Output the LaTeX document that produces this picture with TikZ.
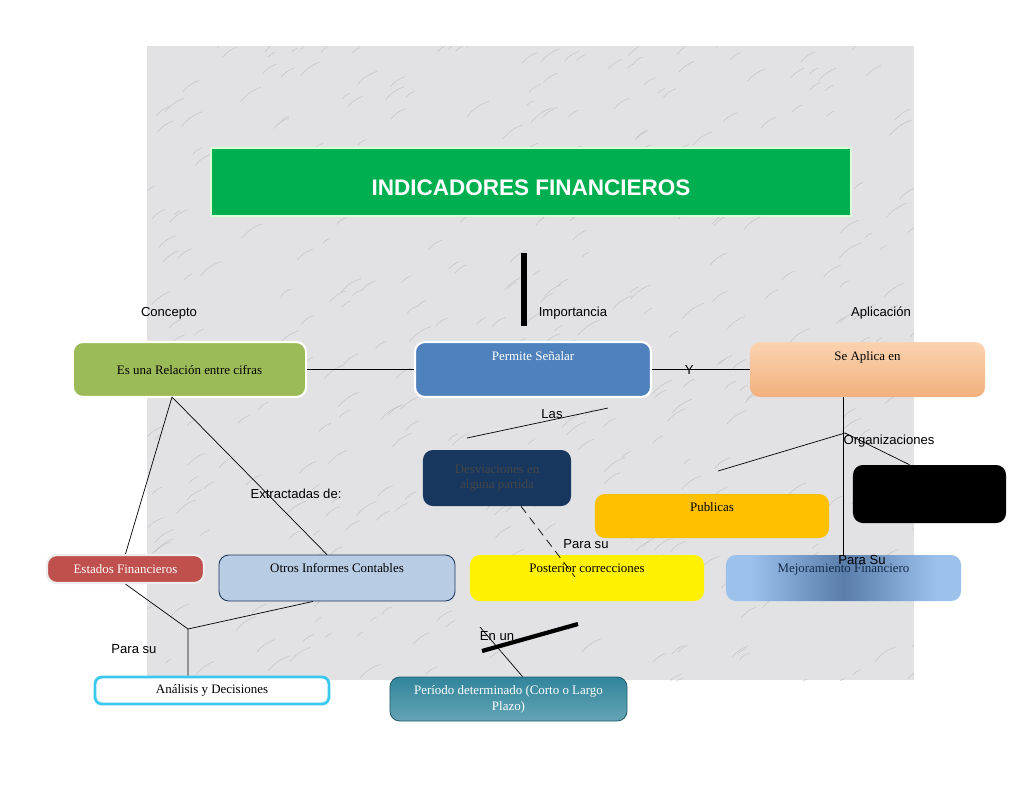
\documentclass[tikz,border=0pt]{standalone}
\usepackage{fontspec}
\setmainfont{Liberation Serif}
\newfontfamily\arialfont{Liberation Sans}

\definecolor{titlegreen}{HTML}{00B050}
\definecolor{relgreen}{HTML}{9BBB59}
\definecolor{permblue}{HTML}{4F81BD}
\definecolor{peachA}{HTML}{FBD3B0}
\definecolor{peachB}{HTML}{F2B07E}
\definecolor{navy}{HTML}{17375E}
\definecolor{gold}{HTML}{FFC000}
\definecolor{estred}{HTML}{C0504D}
\definecolor{paleblue}{HTML}{B8CCE4}
\definecolor{mejA}{HTML}{9CC2EC}
\definecolor{mejB}{HTML}{5A7DAA}
\definecolor{cyanline}{HTML}{3CC8EE}
\definecolor{tealbox}{HTML}{31859C}
\definecolor{marble}{HTML}{E2E2E4}
\definecolor{vein}{HTML}{B4B4B8}

\pgfdeclarehorizontalshading{mejshade}{100bp}{color(0bp)=(mejA); color(30bp)=(mejA);
  color(50bp)=(mejB); color(70bp)=(mejA); color(100bp)=(mejA)}

\tikzset{
  box/.style={rounded corners=7pt, inner sep=0.1cm, align=center,
    font=\fontsize{9.2}{11}\selectfont},
  lbl/.style={font=\arialfont\fontsize{9.3}{10}\selectfont, inner sep=0pt},
  link/.style={draw=black, line width=0.5pt},
}

\begin{document}
\begin{tikzpicture}[x=0.025cm,y=-0.025cm]
  \useasboundingbox (0,0) rectangle (1024,792);
  \fill[marble] (147,46) rectangle (914,680);
  % vetas del marmol
  \begin{scope}
    \clip (147,46) rectangle (914,680);
    \pgfmathsetseed{11}
    \foreach \i in {1,...,420}{
      \pgfmathsetmacro{\mx}{140+780*rnd}
      \pgfmathsetmacro{\my}{46+650*rnd}
      \pgfmathsetmacro{\ml}{6+16*rnd}
      \draw[vein, line width=0.4pt, opacity=0.6] (\mx,\my) to[bend left=15] ++(\ml,-0.7*\ml);
    }
  \end{scope}

  \node[box, rounded corners=0pt, fill=titlegreen, draw=white!85!green, line width=1pt,
    minimum width=16cm, minimum height=1.7cm, text=white, text height=1.09cm, text depth=0.41cm,
    font=\arialfont\bfseries\fontsize{16}{18}\selectfont] (title) at (531,182) {INDICADORES FINANCIEROS};

  \node[box, fill=relgreen, draw=white, line width=1.5pt, minimum width=5.83cm, minimum height=1.375cm] (rel) at (189.5,369.5) {Es una Relación entre cifras};
  \node[box, fill=permblue, draw=white, line width=1.5pt, text=white, minimum width=5.9cm, minimum height=1.375cm,
    text height=0.37cm, text depth=0.8cm] (perm) at (533,369.5) {Permite Señalar};
  \node[box, top color=peachA, bottom color=peachB, minimum width=5.875cm, minimum height=1.375cm,
    text height=0.37cm, text depth=0.8cm] (apl) at (867.5,369.5) {Se Aplica en};
  \node[box, fill=navy, text=gray!55!black, minimum width=3.7cm, minimum height=1.4cm] (desv) at (497,478) {Desviaciones en\\alguna partida};
  \node[box, fill=gold, minimum width=5.85cm, minimum height=1.1cm,
    text height=0.345cm, text depth=0.555cm] (pub) at (712,516) {Publicas};
  \node[box, fill=black, minimum width=3.825cm, minimum height=1.45cm] (oscuro) at (929.5,494) {};
  \node[box, fill=estred, draw=white!85!gray, line width=1.5pt, text=white, minimum width=3.925cm, minimum height=0.7cm] (estados) at (125.5,569) {Estados Financieros};
  \node[box, fill=paleblue, draw=navy, line width=0.6pt, minimum width=5.9cm, minimum height=1.15cm,
    text height=0.345cm, text depth=0.605cm] (otros) at (337,578) {Otros Informes Contables};
  \node[box, fill=yellow, minimum width=5.85cm, minimum height=1.15cm,
    text height=0.345cm, text depth=0.605cm] (post) at (587,578) {Posterior correcciones};
  \node[box, shading=mejshade, text=navy!80!black, minimum width=5.875cm, minimum height=1.15cm,
    text height=0.345cm, text depth=0.605cm] (mej) at (843.5,578) {Mejoramiento Financiero};
  \node[box, rounded corners=5pt, fill=white, draw=cyanline, line width=2pt, minimum width=5.85cm, minimum height=0.675cm] (analisis) at (212,690.5) {Análisis y Decisiones};
  \node[box, top color=tealbox, bottom color=tealbox!75!white, draw=tealbox!70!black, line width=0.6pt, text=white, minimum width=5.925cm, minimum height=1.1cm,
    font=\fontsize{9.2}{11.3}\selectfont] (periodo) at (508.5,699) {Período determinado (Corto o Largo\\Plazo)};

  % etiquetas
  \node[lbl] (concepto) at (169,313) {Concepto};
  \node[lbl] (importancia) at (573,313) {Importancia};
  \node[lbl] (aplicacion) at (881,313) {Aplicación};
  \node[lbl] (las) at (552,414) {Las};
  \node[lbl] (extractadas) at (296,494) {Extractadas de:};
  \node[lbl] (organizaciones) at (889,441) {Organizaciones};
  \node[lbl] (parasu1) at (586,544) {Para su};
  \node[lbl] (parasu2) at (134,649) {Para su};
  \node[lbl] (enun) at (497,636) {En un};

  % conectores
  \coordinate (imp1) at (524,253);
  \coordinate (imp2) at (524,326);
  \draw[line width=4pt] (imp1) -- (imp2);
  \draw[link] (rel) -- (perm);
  \draw[link] (perm) -- node[lbl, pos=0.38] (y) {Y} (apl);
  \coordinate (las1) at (467,438);
  \coordinate (las2) at (608,408);
  \draw[link] (las1) -- (las2);
  \coordinate (relfoot) at (172,397);
  \draw[link] (estados.north) -- (relfoot) -- ([xshift=-0.25cm]otros.north);
  \draw[link] (apl.south -| mej.north) -- (mej.north);
  \node[lbl] (parasu3) at (862,560) {Para Su};
  \coordinate (org) at (845,433);
  \coordinate (pubtip) at (718,471);
  \draw[link] (pubtip) -- (org) -- ([xshift=-0.5cm]oscuro.north);
  \coordinate (postin) at (575,577);
  \draw[link, dashed, dash pattern=on 6pt off 4pt] ([xshift=0.6cm]desv.south) -- (postin);
  \coordinate (junta) at (188,629);
  \draw[link] (estados.south) -- (junta) -- (junta |- analisis.north);
  \draw[link] ([xshift=-0.6cm]otros.south) -- (junta);
  \coordinate (gr1) at (482,651);
  \coordinate (gr2) at (578,624);
  \draw[line width=3pt] (gr1) -- (gr2);
  \coordinate (enun1) at (480,627);
  \draw[link] (enun1) -- ([xshift=0.35cm]periodo.north);
\end{tikzpicture}
\end{document}
